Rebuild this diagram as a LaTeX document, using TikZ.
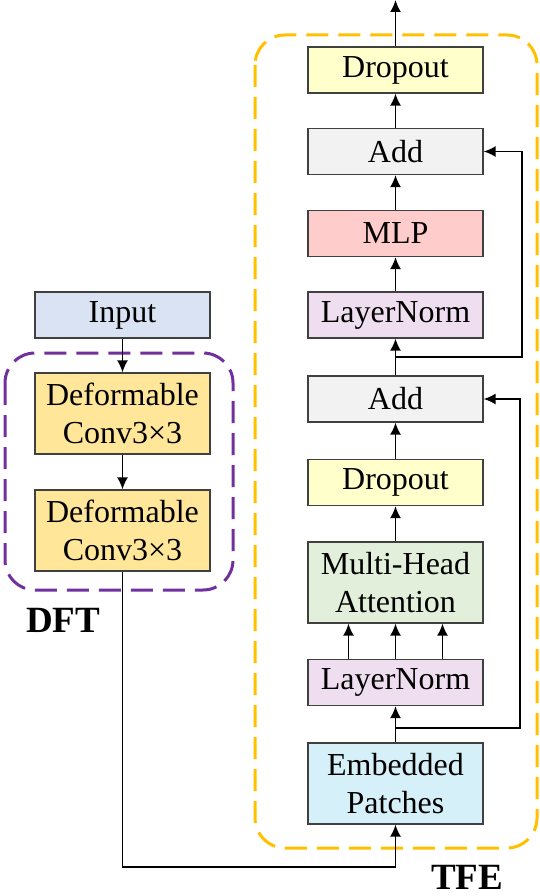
\documentclass[tikz,border=0pt]{standalone}
\usepackage{fontspec}
\setmainfont{Liberation Serif}
\usetikzlibrary{arrows.meta}

\definecolor{inputblue}{HTML}{DAE3F3}
\definecolor{deformgold}{HTML}{FFE699}
\definecolor{dropyellow}{HTML}{FFFFCC}
\definecolor{addgray}{HTML}{F2F2F2}
\definecolor{mlpred}{HTML}{FFCCCC}
\definecolor{normpurple}{HTML}{EEDEF0}
\definecolor{attngreen}{HTML}{E2EFDA}
\definecolor{embedcyan}{HTML}{D5F0F8}
\definecolor{dftpurple}{HTML}{7030A0}
\definecolor{tfeorange}{HTML}{FFC000}

\begin{document}
\begin{tikzpicture}[x=1pt, y=-1pt,
  block/.style={draw=black!75, line width=1.2pt, minimum width=175pt, minimum height=46pt,
    align=center, inner sep=0pt, font=\fontsize{32}{38}\selectfont},
  tallblock/.style={block, minimum height=81pt},
  arr/.style={line width=1.8pt, -{Latex[length=12pt,width=11pt]}},
  groupbox/.style={line width=3pt, rounded corners=30pt, dash pattern=on 22pt off 10pt},
  grouplabel/.style={font=\fontsize{37}{40}\selectfont\bfseries, inner sep=1pt}]
\useasboundingbox (0,0) rectangle (540,896);

% Set the group boxes
\draw[groupbox, dftpurple] (5,353) rectangle (233,590);
\draw[groupbox, tfeorange] (255,35) rectangle (537,848);
\node[grouplabel] (dftlabel) at (63,620) {DFT};
\node[grouplabel] (tfelabel) at (467,877) {TFE};

% Left branch
\node[block, fill=inputblue] (input) at (122.5,315) {Input};
\node[tallblock, fill=deformgold] (dconv1) at (122.5,413.5) {Deformable\\Conv3×3};
\node[tallblock, fill=deformgold] (dconv2) at (122.5,530.5) {Deformable\\Conv3×3};

% Right branch, bottom to top
\node[tallblock, fill=embedcyan] (embed) at (395.5,783.5) {Embedded\\Patches};
\node[block, fill=normpurple] (norm1) at (395.5,682.5) {LayerNorm};
\node[tallblock, fill=attngreen] (attn) at (395.5,582.5) {Multi-Head\\Attention};
\node[block, fill=dropyellow] (drop1) at (395.5,482.5) {Dropout};
\node[block, fill=addgray] (add1) at (395.5,399) {Add};
\node[block, fill=normpurple] (norm2) at (395.5,315) {LayerNorm};
\node[block, fill=mlpred] (mlp) at (395.5,233.5) {MLP};
\node[block, fill=addgray] (add2) at (395.5,151.5) {Add};
\node[block, fill=dropyellow] (drop2) at (395.5,70) {Dropout};

\coordinate (out) at (395.5,0);
\coordinate (bend) at (122.5,867);
\coordinate (split1) at (395.5,728);
\coordinate (skip1) at (520,728);
\coordinate (split2) at (395.5,357);
\coordinate (skip2) at (522,357);

% Connectors
\draw[arr] (input) -- (dconv1);
\draw[arr] (dconv1) -- (dconv2);
\draw[arr] (dconv2.south) -- (bend) -| (embed.south);
\draw[arr] (embed) -- (norm1);
\foreach \dx in {-47,0,47}
  \draw[arr] ([xshift=\dx pt]norm1.north) -- ([xshift=\dx pt]attn.south);
\draw[arr] (attn) -- (drop1);
\draw[arr] (drop1) -- (add1);
\draw[arr] (add1) -- (norm2);
\draw[arr] (norm2) -- (mlp);
\draw[arr] (mlp) -- (add2);
\draw[arr] (add2) -- (drop2);
\draw[arr] (drop2) -- (out);
\draw[arr] (split1) -- (skip1) |- (add1.east);
\draw[arr] (split2) -- (skip2) |- (add2.east);
\end{tikzpicture}
\end{document}
